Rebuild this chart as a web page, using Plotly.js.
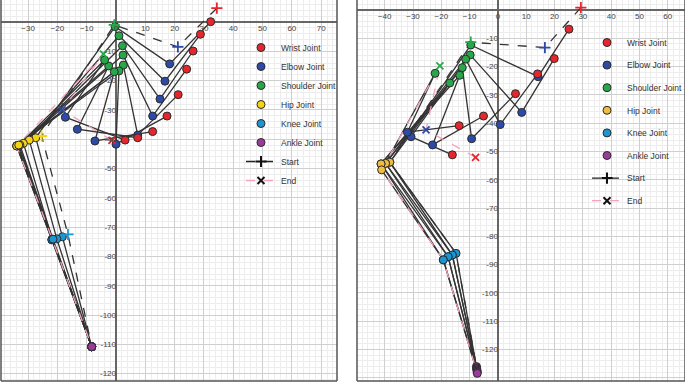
<!DOCTYPE html>
<html><head><meta charset="utf-8">
<script src="https://cdn.plot.ly/plotly-3.0.1.min.js"></script>
<style>html,body{margin:0;padding:0;background:#fff}#chart{width:685px;height:382px}</style>
</head><body><div id="chart"></div>
<script>
// ---------- Panel A (left) : 9 frames ----------
const A_shoulder_x = [-0.3, 1.0, 2.2, 2.4, 2.5, 1.0, -0.6, -2.5, -3.9];
const A_shoulder_y = [-1.6, -4.7, -8.1, -11.3, -14.7, -16.7, -17.0, -15.0, -13.0];
const A_elbow_x = [18.3, 16.7, 15.0, 12.5, 7.4, 0.0, -7.2, -13.2, -17.3];
const A_elbow_y = [-14.3, -20.2, -26.3, -32.1, -38.6, -41.7, -40.6, -36.6, -32.5];
const A_wrist_x = [32.3, 28.8, 26.3, 24.1, 21.2, 17.4, 12.5, 7.4, 3.1];
const A_wrist_y = [0.1, -4.2, -9.9, -16.1, -24.8, -32.1, -37.4, -39.5, -40.3];
const A_hip_x = [-27.4, -29.6, -31.6, -32.8, -33.9, -33.9, -33.5, -33.9, -33.2];
const A_hip_y = [-39.5, -40.3, -41.4, -42.0, -42.2, -42.3, -42.1, -42.3, -42.0];
const A_knee_x = [-18.3, -20.2, -21.7, -21.7, -21.7, -21.9, -21.7, -21.9, -21.5];
const A_knee_y = [-73.3, -74.0, -74.2, -74.2, -74.2, -74.3, -74.2, -74.3, -74.1];
const A_ankle_x = [-8.3, -8.3, -8.3, -8.3, -8.3, -8.3, -8.3, -8.3, -8.3];
const A_ankle_y = [-110.8, -110.8, -110.8, -110.8, -110.8, -110.8, -110.8, -110.8, -110.8];
// start / end poses: [wrist, elbow, shoulder, hip, knee, ankle]
const A_start_x = [34.4, 21.1, -0.6, -25.4, -16.4, -8.3];
const A_start_y = [4.7, -8.5, -1.0, -38.9, -72.5, -110.8];
const A_end_x = [-1.4, -18.4, -4.3, -33.9, -21.7, -8.3];
const A_end_y = [-40.4, -30.0, -11.0, -42.3, -74.2, -110.8];
const A_xticks = [-40, -30, -20, -10, 0, 10, 20, 30, 40, 50, 60, 70];
const A_yticks = [0, -10, -20, -30, -40, -50, -60, -70, -80, -90, -100, -110, -120];
const A_ytext = ['', '-10', '-20', '-30', '-40', '-50', '-60', '-70', '-80', '-90', '-100', '-110', '-120'];

// ---------- Panel B (right) : 7 frames ----------
const B_shoulder_x = [-9.6, -9.8, -11.4, -12.6, -13.5, -17.0, -22.2];
const B_shoulder_y = [-12.4, -15.9, -17.4, -20.4, -23.1, -25.8, -22.4];
const B_elbow_x = [14.2, 8.4, 0.8, -9.3, -23.1, -30.7, -32.0];
const B_elbow_y = [-23.6, -36.2, -40.5, -45.5, -47.7, -44.8, -43.2];
const B_wrist_x = [25.1, 19.9, 14.0, 6.2, -5.1, -16.1, -13.7];
const B_wrist_y = [-6.8, -17.2, -22.6, -29.6, -37.5, -51.2, -40.9];
const B_hip_x = [-38.2, -38.2, -39.7, -39.7, -41.3, -41.3, -41.1];
const B_hip_y = [-53.8, -53.8, -54.2, -54.2, -54.4, -54.4, -56.5];
const B_knee_x = [-14.8, -16.1, -16.1, -17.6, -17.6, -19.3, -19.3];
const B_knee_y = [-86.0, -86.6, -86.6, -87.2, -87.2, -88.3, -88.3];
const B_ankle_x = [-7.6, -7.5, -7.5, -7.4, -7.4, -7.3, -7.3];
const B_ankle_y = [-126.0, -126.5, -126.8, -127.2, -127.6, -128.0, -128.4];
const B_start_x = [29.3, 16.6, -9.6, -38.2, -14.8, -7.6];
const B_start_y = [0.8, -13.3, -11.4, -53.8, -86.0, -126.0];
const B_end_x = [-7.9, -25.4, -20.5, -41.1, -19.3, -7.3];
const B_end_y = [-52.1, -42.4, -19.8, -56.5, -88.3, -128.4];
const B_xticks = [-50, -40, -30, -20, -10, 0, 10, 20, 30, 40, 50, 60];
const B_yticks = [0, -10, -20, -30, -40, -50, -60, -70, -80, -90, -100, -110, -120, -130];
const B_ytext = ['', '-10', '-20', '-30', '-40', '-50', '-60', '-70', '-80', '-90', '-100', '-110', '-120', ''];

const jointNames = ['Wrist Joint', 'Elbow Joint', 'Shoulder Joint', 'Hip Joint', 'Knee Joint', 'Ankle Joint'];
const A_colors = ['#e5262d', '#2c4aa6', '#27a74a', '#f3d417', '#1c96d3', '#9a3b9c'];
const B_colors = ['#e5262d', '#2c4aa6', '#27a74a', '#efbd3f', '#1c96d3', '#9a3b9c'];

// ---------- build ----------
function skeleton(P) {
  const xs = [], ys = [];
  for (let i = 0; i < P.sx.length; i++) {
    xs.push(P.wx[i], P.ex[i], P.sx[i], P.hx[i], P.kx[i], P.ax[i], null);
    ys.push(P.wy[i], P.ey[i], P.sy[i], P.hy[i], P.ky[i], P.ay[i], null);
  }
  return {xs, ys};
}
const traces = [];
function panel(P, xa, ya, leg, colors, startIdx) {
  const sk = skeleton(P);
  traces.push({x: sk.xs, y: sk.ys, xaxis: xa, yaxis: ya, mode: 'lines', showlegend: false,
    line: {color: '#333333', width: 1.3}, hoverinfo: 'skip'});
  traces.push({x: P.startx, y: P.starty, xaxis: xa, yaxis: ya, mode: 'lines', showlegend: false,
    line: {color: '#333333', width: 1.3, dash: 'dash'}});
  traces.push({x: P.endx, y: P.endy, xaxis: xa, yaxis: ya, mode: 'lines', showlegend: false,
    line: {color: '#f2a3bd', width: 1.3, dash: 'dash'}});
  const jx = [P.wx, P.ex, P.sx, P.hx, P.kx, P.ax], jy = [P.wy, P.ey, P.sy, P.hy, P.ky, P.ay];
  [5, 4, 3, 2, 1, 0].forEach(j => {
    traces.push({x: jx[j], y: jy[j], xaxis: xa, yaxis: ya, mode: 'markers', name: jointNames[j],
      legend: leg, legendrank: j + 1, legendgroup: leg + 'g' + j,
      marker: {color: colors[j], size: 8, line: {color: '#2b2b2b', width: 1}}});
  });
  traces.push({x: startIdx.map(i => P.startx[i]), y: startIdx.map(i => P.starty[i]), xaxis: xa, yaxis: ya,
    mode: 'markers', showlegend: false,
    marker: {symbol: 'cross-thin', size: 8, line: {width: 1.8, color: startIdx.map(i => colors[i])}}});
  traces.push({x: [0, 1, 2].map(i => P.endx[i]), y: [0, 1, 2].map(i => P.endy[i]), xaxis: xa, yaxis: ya,
    mode: 'markers', showlegend: false,
    marker: {symbol: 'x-thin', size: 7, line: {width: 1.8, color: [0, 1, 2].map(i => colors[i])}}});
  traces.push({x: [null], y: [null], xaxis: xa, yaxis: ya, mode: 'lines+markers', name: 'Start',
    legend: leg, legendrank: 7, legendgroup: leg + 'gs',
    line: {color: '#222', width: 1.3, dash: 'dash'},
    marker: {symbol: 'cross-thin', size: 8, line: {width: 2, color: '#111'}}});
  traces.push({x: [null], y: [null], xaxis: xa, yaxis: ya, mode: 'lines+markers', name: 'End',
    legend: leg, legendrank: 8, legendgroup: leg + 'ge',
    line: {color: '#f2a3bd', width: 1.3, dash: 'dash'},
    marker: {symbol: 'x-thin', size: 7, line: {width: 2, color: '#111'}}});
}
panel({sx: A_shoulder_x, sy: A_shoulder_y, ex: A_elbow_x, ey: A_elbow_y, wx: A_wrist_x, wy: A_wrist_y,
  hx: A_hip_x, hy: A_hip_y, kx: A_knee_x, ky: A_knee_y, ax: A_ankle_x, ay: A_ankle_y,
  startx: A_start_x, starty: A_start_y, endx: A_end_x, endy: A_end_y}, 'x', 'y', 'legend', A_colors, [0, 1, 2, 3, 4]);
panel({sx: B_shoulder_x, sy: B_shoulder_y, ex: B_elbow_x, ey: B_elbow_y, wx: B_wrist_x, wy: B_wrist_y,
  hx: B_hip_x, hy: B_hip_y, kx: B_knee_x, ky: B_knee_y, ax: B_ankle_x, ay: B_ankle_y,
  startx: B_start_x, starty: B_start_y, endx: B_end_x, endy: B_end_y}, 'x2', 'y2', 'legend2', B_colors, [0, 1, 2]);

const W = 685, H = 382;
const A_dom_x = [1 / W, 337 / W], B_dom_x = [357 / W, 1];
const dom_y = [1 / H, 1];
const A_rx = [-39.25, 75.4], A_ry = [-122.5, 7.5];
const B_rx = [-49.8, 66.1], B_ry = [-131.1, 3.5];
function posOf(dom, r, v) { return dom[0] + (v - r[0]) / (r[1] - r[0]) * (dom[1] - dom[0]); }

const tickFont = {family: 'Liberation Sans, Arial, sans-serif', size: 8, color: '#444'};
function xaxisDef(dom, rx, ry, ticks) {
  return {domain: dom, range: rx, anchor: 'free', position: posOf(dom_y, ry, 0),
    tickmode: 'array', tickvals: ticks, showgrid: true, gridcolor: '#cfcfcf', gridwidth: 1,
    zeroline: true, zerolinecolor: '#666', zerolinewidth: 1.5, showline: false, ticks: '',
    tickfont: tickFont, minor: {tickmode: 'linear', tick0: 0, dtick: 2, showgrid: true, gridcolor: '#ededed', gridwidth: 1},
    fixedrange: true};
}
function yaxisDef(dom, ry, rx, xdom, ticks, text) {
  return {domain: dom, range: ry, anchor: 'free', position: posOf(xdom, rx, 0),
    tickmode: 'array', tickvals: ticks, ticktext: text, showgrid: true, gridcolor: '#cfcfcf', gridwidth: 1,
    zeroline: true, zerolinecolor: '#666', zerolinewidth: 1.5, showline: false, ticks: '',
    tickfont: tickFont, minor: {tickmode: 'linear', tick0: 0, dtick: 2, showgrid: true, gridcolor: '#ededed', gridwidth: 1},
    fixedrange: true};
}
const legFont = {family: 'Liberation Sans, Arial, sans-serif', size: 8.5, color: '#333'};
const layout = {
  width: W, height: H, margin: {l: 0, r: 0, t: 0, b: 0, autoexpand: false},
  paper_bgcolor: '#fff', plot_bgcolor: '#fff', showlegend: true,
  xaxis: xaxisDef(A_dom_x, A_rx, A_ry, A_xticks),
  yaxis: yaxisDef(dom_y, A_ry, A_rx, A_dom_x, A_yticks, A_ytext),
  xaxis2: xaxisDef(B_dom_x, B_rx, B_ry, B_xticks),
  yaxis2: yaxisDef(dom_y, B_ry, B_rx, B_dom_x, B_yticks, B_ytext),
  legend: {x: 241 / W, y: 1 - 33 / H, xanchor: 'left', yanchor: 'top', bgcolor: 'rgba(0,0,0,0)',
    font: legFont, traceorder: 'grouped', tracegroupgap: 0, itemwidth: 30},
  legend2: {x: 587 / W, y: 1 - 28 / H, xanchor: 'left', yanchor: 'top', bgcolor: 'rgba(0,0,0,0)',
    font: legFont, traceorder: 'grouped', tracegroupgap: 3.6, itemwidth: 30},
  shapes: [
    {type: 'line', xref: 'x domain', yref: 'y domain', x0: 0, x1: 0, y0: 0, y1: 1, line: {color: '#555', width: 1.5}},
    {type: 'line', xref: 'x domain', yref: 'y domain', x0: 1, x1: 1, y0: 0, y1: 1, line: {color: '#555', width: 1.5}},
    {type: 'line', xref: 'x domain', yref: 'y domain', x0: 0, x1: 1, y0: 0, y1: 0, line: {color: '#555', width: 1.5}},
    {type: 'line', xref: 'x2 domain', yref: 'y2 domain', x0: 0, x1: 0, y0: 0, y1: 1, line: {color: '#555', width: 1.5}},
    {type: 'line', xref: 'x2 domain', yref: 'y2 domain', x0: 1, x1: 1, y0: 0, y1: 1, line: {color: '#555', width: 1.5}},
    {type: 'line', xref: 'x2 domain', yref: 'y2 domain', x0: 0, x1: 1, y0: 0, y1: 0, line: {color: '#555', width: 1.5}}
  ]
};
Plotly.newPlot('chart', traces, layout, {displayModeBar: false, staticPlot: true});
</script></body></html>
